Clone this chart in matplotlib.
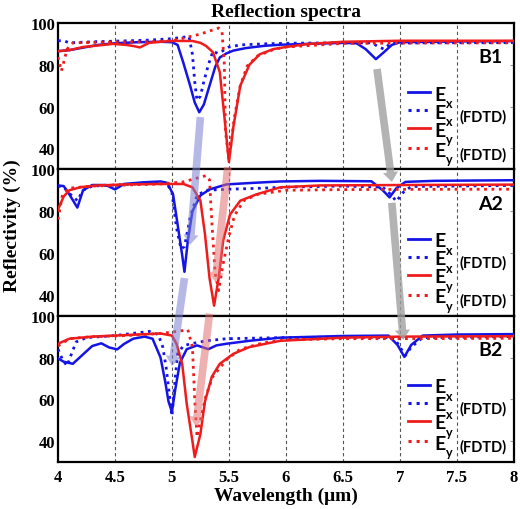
import matplotlib
matplotlib.use('Agg')
import matplotlib.pyplot as plt
from matplotlib.patches import ConnectionPatch

# ---------------- data ----------------
# panel B1
b1_ex_x = [4.0, 4.1, 4.2, 4.35, 4.5, 4.7, 4.9, 5.0, 5.05, 5.1, 5.16, 5.2, 5.24, 5.28, 5.33, 5.38, 5.42,
           5.48, 5.54, 5.65, 5.8, 5.95, 6.2, 6.5, 6.62, 6.7, 6.79, 6.86, 6.93, 7.0, 7.3, 7.6, 8.0]
b1_ex_y = [86.5, 87, 88, 89.5, 90.3, 90.8, 91, 90.8, 89.5, 81, 70, 62, 57.3, 61, 70, 79, 83.5,
           85.5, 86.8, 88, 89, 89.6, 90, 90.5, 90.3, 87.5, 82.7, 86, 89.5, 90.8, 91, 91.2, 91.3]
b1_exf_x = [4.0, 4.05, 4.1, 4.3, 4.5, 4.8, 5.0, 5.1, 5.15, 5.18, 5.2, 5.22, 5.25, 5.28, 5.32, 5.36,
            5.4, 5.44, 5.5, 5.6, 5.8, 6.0, 6.5, 6.75, 6.82, 6.86, 6.92, 7.2, 8.0]
b1_exf_y = [91.5, 91.5, 90.5, 91, 91.3, 91.8, 92.5, 93.2, 93.5, 85, 72, 63, 65, 72, 80, 86.5,
            85.5, 86.5, 88.5, 89.5, 90, 90.3, 90.5, 90.5, 88.5, 87.5, 90.3, 90.5, 90.6]
b1_ey_x = [4.0, 4.1, 4.22, 4.4, 4.48, 4.6, 4.66, 4.72, 4.8, 4.9, 5.0, 5.18, 5.25, 5.3, 5.36, 5.42,
           5.46, 5.5, 5.54, 5.6, 5.68, 5.77, 5.89, 6.0, 6.2, 6.5, 7.0, 7.5, 8.0]
b1_ey_y = [86.5, 87, 88.5, 89.5, 90, 89.5, 89, 88.3, 90.5, 91, 91.4, 91.4, 90.5, 89, 86, 76.5,
           55.5, 33.5, 50.6, 70, 80, 85, 87.5, 88.5, 90, 91, 91.5, 91.5, 91.5]
b1_eyf_x = [4.0, 4.03, 4.08, 4.13, 4.4, 4.8, 5.0, 5.07, 5.25, 5.41, 5.44, 5.46, 5.47, 5.5, 5.55,
            5.6, 5.66, 5.75, 5.9, 6.0, 6.5, 7.0, 8.0]
b1_eyf_y = [83.7, 77, 87.5, 90.5, 90.8, 91, 91.5, 92.3, 94.7, 97.6, 95.7, 80, 48, 35, 55.4,
            70, 79.4, 84.2, 87.5, 88.5, 90.2, 90.4, 90.5]

# panel A2
a2_ex_x = [4.0, 4.05, 4.1, 4.17, 4.22, 4.3, 4.42, 4.5, 4.58, 4.75, 4.9, 4.96, 5.01, 5.05, 5.09, 5.11,
           5.14, 5.18, 5.25, 5.33, 5.48, 5.7, 5.95, 6.3, 6.75, 6.85, 6.91, 6.97, 7.05, 7.3, 8.0]
a2_ex_y = [92.3, 92, 88, 81.7, 90, 92.5, 92.5, 90.4, 93, 93.8, 94.2, 93.5, 88, 73.6, 59, 51,
           66, 80, 87.5, 90.4, 92.8, 93.5, 94.2, 94.5, 94.3, 90, 86.6, 91, 94, 94.5, 94.8]
a2_exf_x = [4.0, 4.05, 4.1, 4.17, 4.22, 4.3, 4.5, 4.75, 4.95, 5.0, 5.04, 5.08, 5.11, 5.16, 5.22, 5.3,
            5.5, 5.8, 6.0, 6.5, 6.85, 6.92, 6.97, 7.03, 7.1, 7.5, 8.0]
a2_exf_y = [92, 91.5, 88.5, 85, 90, 92, 92.5, 93.2, 93.8, 89, 72, 62, 63, 77, 87.5, 90,
            90.5, 91, 91.5, 92, 91.5, 88, 84.7, 89, 91.8, 92, 92.3]
a2_ey_x = [4.0, 4.05, 4.1, 4.2, 4.35, 4.6, 4.9, 5.1, 5.18, 5.25, 5.29, 5.33, 5.37, 5.41, 5.45, 5.51,
           5.6, 5.74, 5.95, 6.3, 7.0, 8.0]
a2_ey_y = [80.8, 87, 90, 91.5, 92.3, 92.8, 93, 93, 91.4, 85, 69, 48, 34.8, 48, 66, 78.4,
           85, 88, 91.4, 92.3, 92.5, 92.7]
a2_eyf_x = [4.0, 4.04, 4.1, 4.3, 4.6, 4.9, 5.1, 5.2, 5.3, 5.33, 5.35, 5.38, 5.41, 5.45, 5.5, 5.55,
            5.63, 5.75, 6.0, 6.5, 7.0, 8.0]
a2_eyf_y = [76, 88, 91, 92, 92.5, 93, 94, 95.5, 97, 95, 75, 50, 42, 55, 68, 78,
            85, 88, 90, 90.3, 90.4, 90.5]

# panel B2
b2_ex_x = [4.0, 4.05, 4.13, 4.2, 4.3, 4.38, 4.45, 4.52, 4.58, 4.66, 4.76, 4.83, 4.9, 4.94, 4.97, 5.0,
           5.03, 5.07, 5.13, 5.22, 5.32, 5.39, 5.48, 5.68, 5.95, 6.5, 6.9, 6.98, 7.04, 7.1, 7.2, 7.5, 8.0]
b2_ex_y = [79.6, 78, 77, 80.5, 85.5, 86.8, 84.8, 83.9, 86.5, 89, 90, 89, 80, 68.8, 59, 54,
           65, 77.5, 84, 85.8, 84, 85.8, 86.6, 88, 89.5, 90.3, 90.5, 86, 80.3, 86, 90.5, 91, 91.2]
b2_exf_x = [4.0, 4.04, 4.08, 4.12, 4.16, 4.25, 4.5, 4.8, 4.88, 4.92, 4.95, 5.0, 5.03, 5.05, 5.1, 5.16,
            5.3, 5.48, 5.95, 6.5, 6.95, 7.0, 7.05, 7.1, 7.2, 8.0]
b2_exf_y = [84, 79, 76, 82, 87.5, 89.5, 90.5, 92.5, 91, 85, 75, 52, 70.8, 81.8, 85.6, 86.5,
            88, 89, 89.5, 89.8, 89.5, 85, 81, 85, 89.5, 90]
b2_ey_x = [4.0, 4.1, 4.3, 4.5, 4.7, 4.9, 5.0, 5.04, 5.09, 5.13, 5.18, 5.2, 5.25, 5.29, 5.35, 5.42,
           5.54, 5.68, 5.95, 6.5, 7.0, 8.0]
b2_ey_y = [86.6, 89, 90, 90.5, 91, 91.5, 90.5, 86.6, 77, 57.8, 40, 32.4, 43.4, 59, 70.8, 77,
           81.8, 85, 88, 89.5, 90, 90.2]
b2_eyf_x = [4.0, 4.1, 4.3, 4.6, 4.9, 5.05, 5.14, 5.18, 5.2, 5.22, 5.25, 5.3, 5.36, 5.48, 5.6, 5.8,
            6.0, 6.5, 7.0, 8.0]
b2_eyf_y = [85.5, 89, 90, 90.5, 91.5, 92.5, 93.3, 85, 60, 42, 50, 62, 71, 79, 84, 87,
            88.5, 89, 89, 89.2]

panel_names = ['B1', 'A2', 'B2']
x_ticks = [4, 4.5, 5, 5.5, 6, 6.5, 7, 7.5, 8]
x_tick_labels = ['4', '4.5', '5', '5.5', '6', '6.5', '7', '7.5', '8']
y_ticks = [40, 60, 80, 100]

panels = [
    [(b1_ex_x, b1_ex_y), (b1_exf_x, b1_exf_y), (b1_ey_x, b1_ey_y), (b1_eyf_x, b1_eyf_y)],
    [(a2_ex_x, a2_ex_y), (a2_exf_x, a2_exf_y), (a2_ey_x, a2_ey_y), (a2_eyf_x, a2_eyf_y)],
    [(b2_ex_x, b2_ex_y), (b2_exf_x, b2_exf_y), (b2_ey_x, b2_ey_y), (b2_eyf_x, b2_eyf_y)],
]

# ---------------- styles ----------------
blue = '#1414e6'
red = '#ee1c1c'
styles = [(blue, '-'), (blue, ':'), (red, '-'), (red, ':')]
serif = 'Liberation Serif'
sans = 'Lato'

fig, axes = plt.subplots(3, 1, sharex=True, figsize=(5.2, 5.1), dpi=100)
fig.subplots_adjust(left=0.1115, right=0.988, top=0.953, bottom=0.092, hspace=0)

for ax, series, name in zip(axes, panels, panel_names):
    for (xs, ys), (col, ls) in zip(series, styles):
        ax.plot(xs, ys, color=col, linestyle=ls, lw=1.8 if ls == '-' else 2.0, zorder=3)

    ax.set_xlim(4, 8)
    ax.set_ylim(30, 100)
    ax.set_yticks(y_ticks)
    ax.set_yticklabels([str(v) for v in y_ticks], fontfamily=serif, fontweight='bold', fontsize=12)
    ax.tick_params(axis='y', left=False, right=True, direction='in', length=3,
                   color='#999999', pad=2)
    ax.tick_params(axis='x', length=0)
    for sp in ax.spines.values():
        sp.set_linewidth(1.6)

    # dashed vertical grid
    for xv in x_ticks[1:-1]:
        ax.axvline(xv, color='#555555', lw=0.8, linestyle=(0, (3, 2.5)), zorder=1)

    # panel label
    ax.text(0.976, 0.77, name, transform=ax.transAxes, ha='right', va='center',
            fontfamily=sans, fontweight='bold', fontsize=14)

    # hand-made legend: short line + E with subscript, (FDTD) smaller
    entry_y = [0.514, 0.39, 0.267, 0.13]
    subs = ['x', 'x', 'y', 'y']
    for (col, ls), ey, sub in zip(styles, entry_y, subs):
        ax.plot([0.768, 0.816], [ey + 0.013, ey + 0.013], transform=ax.transAxes,
                color=col, linestyle=ls, lw=2.0 if ls == '-' else 2.2, clip_on=False, zorder=4)
        ax.text(0.826, ey, 'E', transform=ax.transAxes, ha='left', va='center',
                fontfamily=sans, fontweight='bold', fontsize=14, zorder=5)
        ax.text(0.851, ey - 0.062, sub, transform=ax.transAxes, ha='left', va='center',
                fontfamily=sans, fontweight='bold', fontsize=9, zorder=5)
        if ls == ':':
            ax.text(0.882, ey - 0.025, '(FDTD)', transform=ax.transAxes, ha='left', va='center',
                    fontfamily=sans, fontweight='bold', fontsize=10.5)

axes[2].set_xticks(x_ticks)
axes[2].set_xticklabels(x_tick_labels, fontfamily=serif, fontweight='bold', fontsize=12)
axes[2].tick_params(axis='x', pad=5)
axes[2].set_xlabel('Wavelength (μm)', fontfamily=serif, fontweight='bold', fontsize=14, labelpad=1)

axes[0].set_title('Reflection spectra', fontfamily=serif, fontweight='bold', fontsize=14, pad=5)
fig.text(0.024, 0.557, 'Reflectivity (%)', rotation=90, ha='center', va='center',
         fontfamily=serif, fontweight='bold', fontsize=14)

# shift arrows between panels (data coords of the two panels they join)
arrows = [
    (0, (5.25, 55), 1, (5.16, 64), '#7b80d0', 0.55),
    (1, (5.11, 48), 2, (5.00, 76), '#7b80d0', 0.55),
    (0, (5.49, 31), 1, (5.38, 46), '#e07070', 0.55),
    (1, (5.33, 31), 2, (5.21, 47), '#e07070', 0.55),
    (0, (6.80, 78), 1, (6.93, 94), '#a0a0a0', 0.8),
    (1, (6.93, 84), 2, (7.03, 88.5), '#a0a0a0', 0.8),
]
for ia, pa, ib, pb, col, al in arrows:
    con = ConnectionPatch(xyA=pa, coordsA=axes[ia].transData, xyB=pb, coordsB=axes[ib].transData,
                          arrowstyle='simple,head_length=0.7,head_width=1.1,tail_width=0.55',
                          mutation_scale=10, color=col, alpha=al, lw=0, zorder=10)
    fig.add_artist(con)

fig.savefig('out.png', dpi=100)
